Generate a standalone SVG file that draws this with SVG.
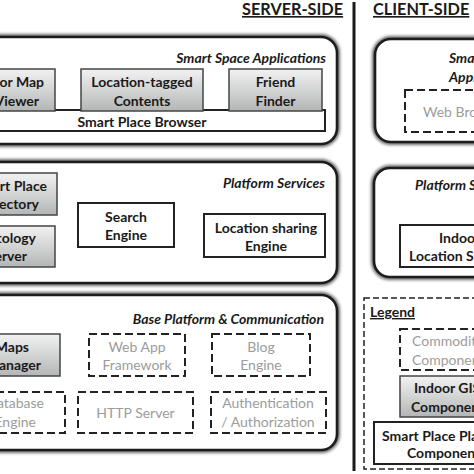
<svg xmlns="http://www.w3.org/2000/svg" width="474" height="474" viewBox="0 0 474 474">
<defs>
  <linearGradient id="gbox" x1="0" y1="0" x2="0" y2="1">
    <stop offset="0" stop-color="#f2f2f2"/>
    <stop offset="1" stop-color="#b4b6b6"/>
  </linearGradient>
  <filter id="glow" x="-10%" y="-10%" width="120%" height="120%">
    <feGaussianBlur stdDeviation="1.6"/>
  </filter>
</defs>
<style>
  text { font-family: Lato, "Open Sans", sans-serif; font-size: 14px; font-weight: bold; fill: #1a1a1a; }
  .title { font-style: italic; }
  .gray { fill: #9c9c9c; font-weight: normal; }
  .mid { text-anchor: middle; }
  .end { text-anchor: end; }
  .hdr { font-size: 16.3px; text-decoration: underline; }
  .shadow { fill: none; stroke: #6a6a6a; stroke-width: 6; filter: url(#glow); }
  .panel { fill: #ffffff; stroke: #1c1c1c; stroke-width: 2.6; }
  .gbox { fill: url(#gbox); stroke: #444; stroke-width: 1.5; }
  .wbox { fill: #ffffff; stroke: #222; stroke-width: 2; }
  .dbox { fill: none; stroke: #222; stroke-width: 2; stroke-dasharray: 8 4; }
  .legend { fill: none; stroke: #222; stroke-width: 1.5; stroke-dasharray: 6 3; }
</style>
<rect width="474" height="474" fill="#ffffff"/>

<g id="headers">
  <text class="hdr" x="242" y="15">SERVER-SIDE</text>
  <text class="hdr" x="373" y="15">CLIENT-SIDE</text>
  <line x1="354" y1="2" x2="354" y2="471" stroke="#1a1a1a" stroke-width="3"/>
</g>

<g id="server-apps">
  <rect class="shadow" x="-30" y="37" width="367" height="107" rx="16"/>
  <rect class="panel" x="-30" y="37" width="367" height="107" rx="16"/>
  <text class="title end" x="326" y="63">Smart Space Applications</text>
  <g id="smart-place-browser">
    <rect class="wbox" x="-10" y="110" width="335" height="21" stroke-width="1.5"/>
    <text class="mid" x="142" y="127">Smart Place Browser</text>
  </g>
  <g id="indoor-map-viewer">
    <rect class="gbox" x="-40" y="69" width="95" height="42"/>
    <text class="end" x="44" y="87">Indoor Map</text>
    <text class="end" x="39" y="106">Viewer</text>
  </g>
  <g id="location-tagged-contents">
    <rect class="gbox" x="81" y="69" width="122" height="42"/>
    <text class="mid" x="142" y="87">Location-tagged</text>
    <text class="mid" x="142" y="106">Contents</text>
  </g>
  <g id="friend-finder">
    <rect class="gbox" x="229" y="69" width="93" height="42"/>
    <text class="mid" x="275.5" y="87">Friend</text>
    <text class="mid" x="275.5" y="106">Finder</text>
  </g>
</g>

<g id="server-platform">
  <rect class="shadow" x="-30" y="162" width="367" height="121" rx="16"/>
  <rect class="panel" x="-30" y="162" width="367" height="121" rx="16"/>
  <text class="title end" x="325" y="188">Platform Services</text>
  <g id="smart-place-directory">
    <rect class="gbox" x="-40" y="173" width="97" height="42"/>
    <text class="end" x="47" y="191">Smart Place</text>
    <text class="end" x="39" y="209">Directory</text>
  </g>
  <g id="ontology-server">
    <rect class="gbox" x="-40" y="226" width="95" height="41"/>
    <text class="end" x="36" y="243">Ontology</text>
    <text class="end" x="27" y="261">Server</text>
  </g>
  <g id="search-engine">
    <rect class="wbox" x="78" y="203" width="96" height="44"/>
    <text class="mid" x="126" y="222">Search</text>
    <text class="mid" x="126" y="240">Engine</text>
  </g>
  <g id="location-sharing-engine">
    <rect class="wbox" x="204" y="214" width="121" height="43"/>
    <text class="mid" x="266" y="233">Location sharing</text>
    <text class="mid" x="266" y="251">Engine</text>
  </g>
</g>

<g id="server-base">
  <rect class="shadow" x="-30" y="295" width="367" height="155" rx="16"/>
  <rect class="panel" x="-30" y="295" width="367" height="155" rx="16"/>
  <text class="title end" x="324" y="324">Base Platform &amp; Communication</text>
  <g id="maps-manager">
    <rect class="gbox" x="-40" y="334" width="100" height="42"/>
    <text class="end" x="29" y="352">Maps</text>
    <text class="end" x="41" y="370">Manager</text>
  </g>
  <g id="web-app-framework">
    <rect class="dbox" x="89" y="334" width="96" height="42"/>
    <text class="gray mid" x="137" y="352">Web App</text>
    <text class="gray mid" x="137" y="370">Framework</text>
  </g>
  <g id="blog-engine">
    <rect class="dbox" x="212" y="334" width="98" height="42"/>
    <text class="gray mid" x="261" y="352">Blog</text>
    <text class="gray mid" x="261" y="370">Engine</text>
  </g>
  <g id="database-engine">
    <rect class="dbox" x="-40" y="392" width="105" height="41"/>
    <text class="gray end" x="44" y="408">Database</text>
    <text class="gray end" x="36" y="427">Engine</text>
  </g>
  <g id="http-server">
    <rect class="dbox" x="78" y="392" width="115" height="41"/>
    <text class="gray mid" x="135.5" y="418">HTTP Server</text>
  </g>
  <g id="authentication">
    <rect class="dbox" x="211" y="392" width="115" height="41"/>
    <text class="gray mid" x="268" y="408">Authentication</text>
    <text class="gray mid" x="268" y="427">/ Authorization</text>
  </g>
</g>

<g id="client-apps">
  <rect class="shadow" x="375" y="39" width="140" height="103" rx="16"/>
  <rect class="panel" x="375" y="39" width="140" height="103" rx="16"/>
  <text class="title" x="449" y="63">Smart Space</text>
  <text class="title" x="449" y="82">Applications</text>
  <g id="web-browser">
    <rect class="dbox" x="405" y="90" width="100" height="42"/>
    <text class="gray" x="423" y="117">Web Browser</text>
  </g>
</g>

<g id="client-platform">
  <rect class="shadow" x="374" y="168" width="140" height="109" rx="16"/>
  <rect class="panel" x="374" y="168" width="140" height="109" rx="16"/>
  <text class="title" x="415" y="190">Platform Services</text>
  <g id="indoor-location-sharing">
    <rect class="wbox" x="400" y="225" width="120" height="42"/>
    <text x="439" y="243">Indoor</text>
    <text x="409" y="261">Location Sharing</text>
  </g>
</g>

<g id="legend">
  <rect class="legend" x="364" y="298" width="150" height="171"/>
  <text x="370" y="317" style="text-decoration: underline">Legend</text>
  <g id="legend-commodity">
    <rect class="dbox" x="400" y="329" width="110" height="41"/>
    <text class="gray" x="412" y="346">Commodity</text>
    <text class="gray" x="412" y="365">Component</text>
  </g>
  <g id="legend-indoor-gis">
    <rect class="gbox" x="400" y="376" width="110" height="41"/>
    <text x="414" y="393">Indoor GIS</text>
    <text x="411" y="412">Component</text>
  </g>
  <g id="legend-smart-place">
    <rect class="wbox" x="374" y="422" width="140" height="42"/>
    <text x="382" y="441">Smart Place Platform</text>
    <text x="407" y="458">Component</text>
  </g>
</g>
</svg>
